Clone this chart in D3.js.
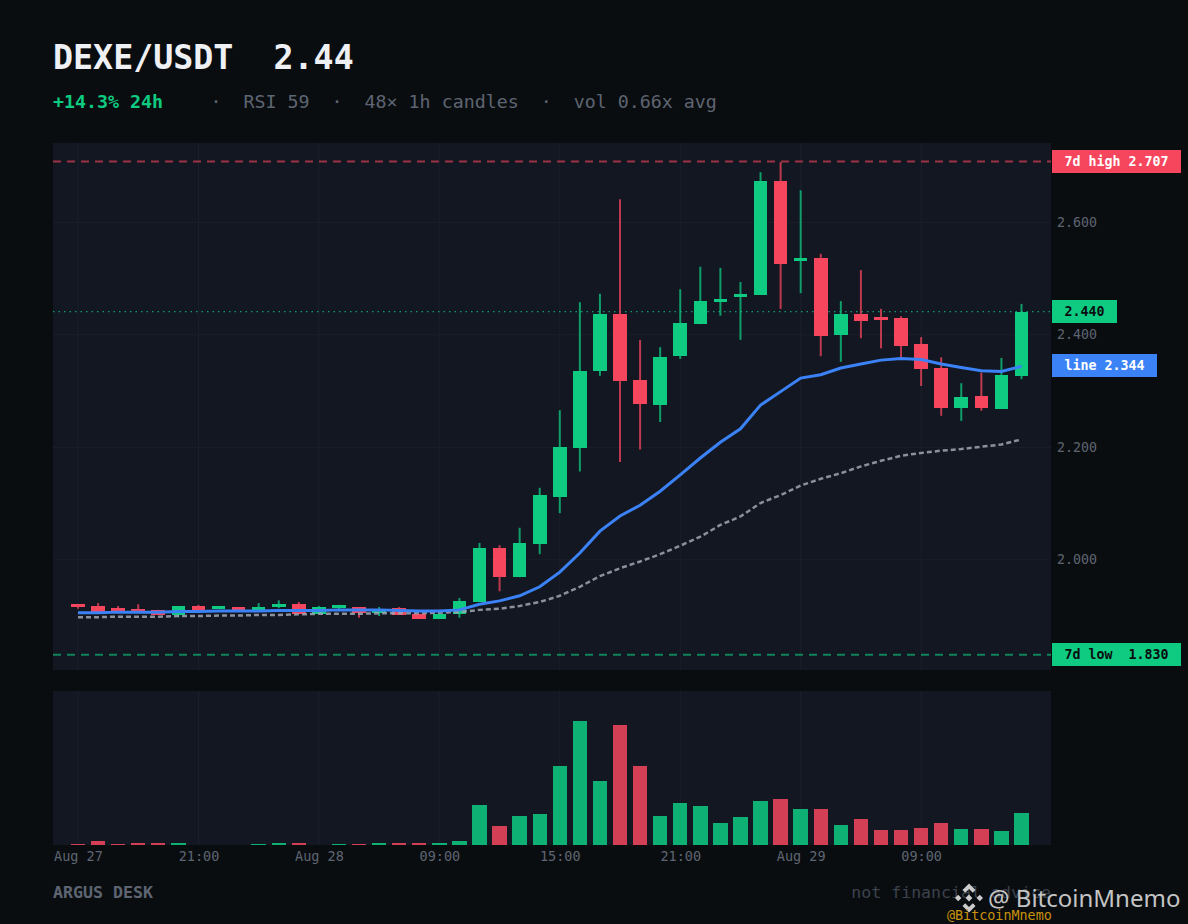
<!DOCTYPE html>
<html>
<head>
<meta charset="utf-8">
<script src="https://cdn.jsdelivr.net/npm/d3@7/dist/d3.min.js"></script>
<style>
  html, body { margin: 0; padding: 0; background: #0a0d10; }
  svg { display: block; }
  text { font-family: "DejaVu Sans Mono", monospace; white-space: pre; }
</style>
</head>
<body>
<div id="chart"></div>
<script>
const opens = [1.921,1.918,1.914,1.913,1.911,1.902,1.918,1.914,1.916,1.909,1.916,1.921,1.904,1.914,1.916,1.905,1.914,1.904,1.895,1.904,
  1.925,2.021,1.969,2.028,2.112,2.199,2.336,2.437,2.320,2.276,2.363,2.420,2.458,2.467,2.471,2.673,2.531,2.537,2.400,2.437,
  2.432,2.430,2.384,2.341,2.270,2.291,2.268,2.327];
const highs = [1.921,1.923,1.918,1.921,1.911,1.918,1.920,1.918,1.916,1.923,1.928,1.925,1.918,1.920,1.916,1.916,1.916,1.904,1.904,1.932,
  2.030,2.026,2.057,2.128,2.266,2.458,2.473,2.641,2.391,2.378,2.481,2.521,2.519,2.494,2.689,2.707,2.657,2.544,2.460,2.515,
  2.446,2.433,2.396,2.360,2.314,2.333,2.359,2.455];
const lows = [1.913,1.907,1.907,1.907,1.902,1.898,1.909,1.913,1.909,1.909,1.914,1.904,1.904,1.912,1.897,1.900,1.902,1.895,1.895,1.897,
  1.925,1.944,1.969,2.010,2.083,2.157,2.327,2.174,2.196,2.245,2.357,2.419,2.434,2.391,2.471,2.446,2.474,2.362,2.352,2.394,
  2.376,2.359,2.309,2.256,2.247,2.265,2.268,2.321];
const closes = [1.916,1.907,1.907,1.907,1.902,1.918,1.909,1.918,1.909,1.916,1.921,1.904,1.916,1.920,1.905,1.912,1.902,1.895,1.904,1.927,
  2.021,1.969,2.030,2.115,2.200,2.336,2.437,2.318,2.277,2.360,2.421,2.460,2.464,2.473,2.673,2.526,2.537,2.398,2.437,2.424,
  2.426,2.380,2.339,2.270,2.289,2.270,2.329,2.440];
const lineValues = [1.906,1.906,1.907,1.907,1.907,1.908,1.908,1.909,1.909,1.909,1.910,1.910,1.910,1.911,1.911,1.911,1.910,1.909,1.909,1.911,
  1.921,1.927,1.936,1.952,1.978,2.012,2.051,2.078,2.097,2.122,2.151,2.181,2.209,2.233,2.275,2.299,2.323,2.329,2.341,2.348,
  2.355,2.358,2.356,2.348,2.342,2.336,2.335,2.344];
const slowValues = [1.898,1.898,1.899,1.899,1.899,1.900,1.900,1.901,1.901,1.902,1.902,1.903,1.904,1.904,1.904,1.905,1.905,1.905,1.906,1.907,
  1.911,1.913,1.918,1.925,1.936,1.952,1.971,1.985,1.997,2.010,2.025,2.041,2.062,2.077,2.101,2.115,2.132,2.144,2.154,2.166,
  2.176,2.185,2.190,2.194,2.197,2.201,2.205,2.214];
const volumes = [1,4,1,2,2,2,0,0,0,1,2,2,0,1,1,2,2,2,2,4,
  40,19,29,31,79,124,64,120,79,29,42,39,22,28,44,46,36,36,20,26,
  15,15,17,22,16,16,14,32];
const priceTicks = [2.0, 2.2, 2.4, 2.6];
const timeTickIdx = [0, 6, 12, 18, 24, 30, 36, 42];
const timeTickLabels = ['Aug 27', '21:00', 'Aug 28', '09:00', '15:00', '21:00', 'Aug 29', '09:00'];
const weekHigh = 2.707;
const weekLow = 1.83;
const lastPrice = 2.44;
const lineLast = 2.344;

const W = 1188, H = 924;
const GREEN = '#0ecb81', RED = '#f6465d', BLUE = '#3b82f6';
const GRID = '#1b1f2a', PANEL = '#131722', MUTED = '#5e6572';
const main = { l: 53, r: 1051, t: 143, b: 670 };
const vol = { t: 691, b: 845 };

const svg = d3.select('#chart').append('svg').attr('width', W).attr('height', H);

const idx = d3.range(closes.length);
const x = d3.scalePoint().domain(idx).range([78, 1021.5]);
const y = d3.scaleLinear().domain([1.805, 2.741]).range([669.5, 143]);
const yVol = d3.scaleLinear().domain([0, 154]).range([vol.b, vol.t]);
const isUp = (i) => closes[i] >= opens[i];

// panels
svg.append('rect').attr('x', main.l).attr('y', main.t).attr('width', main.r - main.l).attr('height', main.b - main.t).attr('fill', PANEL);
svg.append('rect').attr('x', main.l).attr('y', vol.t).attr('width', main.r - main.l).attr('height', vol.b - vol.t).attr('fill', PANEL);

// grid
svg.append('g').selectAll('line').data(priceTicks).join('line')
  .attr('x1', main.l).attr('x2', main.r)
  .attr('y1', (d) => y(d)).attr('y2', (d) => y(d))
  .attr('stroke', GRID).attr('stroke-width', 1);
svg.append('g').selectAll('line').data(timeTickIdx).join('line')
  .attr('x1', (d) => x(d)).attr('x2', (d) => x(d))
  .attr('y1', main.t).attr('y2', main.b)
  .attr('stroke', GRID).attr('stroke-width', 1);
svg.append('g').selectAll('line').data(timeTickIdx).join('line')
  .attr('x1', (d) => x(d)).attr('x2', (d) => x(d))
  .attr('y1', vol.t).attr('y2', vol.b)
  .attr('stroke', GRID).attr('stroke-width', 1);

// reference lines, sit a touch above the candle scale
const refs = svg.append('g').attr('transform', 'translate(0,-0.6)');
function refLine(value, color, dash, width, opacity) {
  refs.append('line')
    .attr('x1', main.l).attr('x2', main.r)
    .attr('y1', y(value)).attr('y2', y(value))
    .attr('stroke', color).attr('stroke-width', width)
    .attr('stroke-dasharray', dash).attr('opacity', opacity);
}
refLine(weekHigh, RED, '8,6', 2, 0.6);
refLine(weekLow, GREEN, '8,6', 2, 0.6);
refLine(lastPrice, GREEN, '1.5,4', 1.2, 0.75);

// candles
const candles = svg.append('g');
candles.selectAll('line').data(idx).join('line')
  .attr('x1', (i) => x(i)).attr('x2', (i) => x(i))
  .attr('y1', (i) => y(highs[i])).attr('y2', (i) => y(lows[i]))
  .attr('stroke', (i) => (isUp(i) ? GREEN : RED))
  .attr('stroke-width', 2).attr('opacity', 0.75);
candles.selectAll('rect').data(idx).join('rect')
  .attr('x', (i) => x(i) - 6.8)
  .attr('width', 13.6)
  .attr('y', (i) => y(Math.max(opens[i], closes[i])))
  .attr('height', (i) => Math.max(3, Math.abs(y(opens[i]) - y(closes[i]))))
  .attr('fill', (i) => (isUp(i) ? GREEN : RED))
  .attr('shape-rendering', 'crispEdges');

// moving lines
const lineGen = (vals) => d3.line().x((i) => x(i)).y((i) => y(vals[i]))(idx);
svg.append('path').attr('d', lineGen(slowValues)).attr('fill', 'none')
  .attr('stroke', '#a0a6b4').attr('stroke-width', 2.5).attr('stroke-dasharray', '5,3').attr('opacity', 0.85);
svg.append('path').attr('d', lineGen(lineValues)).attr('fill', 'none')
  .attr('stroke', BLUE).attr('stroke-width', 3);

// volume
svg.append('g').selectAll('rect').data(idx.filter((i) => volumes[i] > 0)).join('rect')
  .attr('x', (i) => x(i) - 7.2)
  .attr('width', 14.4)
  .attr('y', (i) => yVol(volumes[i]))
  .attr('height', (i) => vol.b - yVol(volumes[i]))
  .attr('fill', (i) => (isUp(i) ? GREEN : RED))
  .attr('opacity', 0.85)
  .attr('shape-rendering', 'crispEdges');

// axes
const yAxis = svg.append('g')
  .attr('transform', `translate(1057,-0.5)`)
  .call(d3.axisRight(y).tickValues(priceTicks).tickSize(0).tickPadding(0).tickFormat(d3.format('.3f')));
yAxis.select('.domain').remove();
yAxis.selectAll('text').attr('fill', MUTED).attr('font-size', 13.3).attr('font-family', '"DejaVu Sans Mono", monospace');

const xAxis = svg.append('g')
  .attr('transform', `translate(0,${vol.b})`)
  .call(d3.axisBottom(x).tickValues(timeTickIdx).tickSize(0).tickPadding(6).tickFormat((d) => timeTickLabels[timeTickIdx.indexOf(d)]));
xAxis.select('.domain').remove();
xAxis.selectAll('text').attr('fill', MUTED).attr('font-size', 13.5).attr('font-family', '"DejaVu Sans Mono", monospace');

// price tags
function tag(value, label, bg, fg, w) {
  const cy = y(value) - 0.5;
  svg.append('rect').attr('x', 1052).attr('y', cy - 11.5).attr('width', w).attr('height', 23).attr('fill', bg)
    .attr('shape-rendering', 'crispEdges');
  svg.append('text').attr('x', 1064.5).attr('y', cy + 4.5).attr('fill', fg)
    .attr('font-size', 13.3).attr('font-weight', 'bold').text(label);
}
tag(weekHigh, '7d high 2.707', RED, '#ffffff', 129);
tag(lastPrice, '2.440', GREEN, '#0a0d10', 65);
tag(lineLast, 'line 2.344', BLUE, '#ffffff', 105);
tag(weekLow, '7d low  1.830', GREEN, '#0a0d10', 129);

// header
svg.append('text').attr('x', 53).attr('y', 69).attr('fill', '#eef0f4')
  .attr('font-size', 33.3).attr('font-weight', 'bold').text('DEXE/USDT  2.44');
svg.append('text').attr('x', 53).attr('y', 108).attr('fill', GREEN)
  .attr('font-size', 18.3).attr('font-weight', 'bold').text('+14.3% 24h');
svg.append('text').attr('x', 210.5).attr('y', 108).attr('fill', MUTED)
  .attr('font-size', 18.3).text('·  RSI 59  ·  48× 1h candles  ·  vol 0.66x avg');

// footer
svg.append('text').attr('x', 53).attr('y', 898).attr('fill', MUTED)
  .attr('font-size', 16.6).attr('font-weight', 'bold').text('ARGUS DESK');
svg.append('text').attr('x', 1051).attr('y', 898).attr('text-anchor', 'end').attr('fill', '#3c424d')
  .attr('font-size', 16.6).text('not financial advice');

// watermark
const mark = svg.append('g').attr('transform', 'translate(969,898)').attr('fill', '#dcdcdc').attr('opacity', 0.92);
mark.append('path').attr('d', 'M0,-14.5L6.5,-8L3.8,-5.3L0,-9L-3.8,-5.3L-6.5,-8Z');
mark.append('path').attr('d', 'M0,14.5L6.5,8L3.8,5.3L0,9L-3.8,5.3L-6.5,8Z');
mark.append('path').attr('d', 'M-14,0L-10.8,-3.2L-7.6,0L-10.8,3.2Z');
mark.append('path').attr('d', 'M14,0L10.8,-3.2L7.6,0L10.8,3.2Z');
mark.append('path').attr('d', 'M0,-3.4L3.4,0L0,3.4L-3.4,0Z');
svg.append('text').attr('x', 988).attr('y', 907).attr('fill', '#d8d8d8').attr('opacity', 0.9)
  .style('font-family', '"Noto Sans", sans-serif').attr('font-size', 24).text('@ BitcoinMnemo');
svg.append('text').attr('x', 947).attr('y', 920).attr('fill', '#c8920c')
  .attr('font-size', 13.4).text('@BitcoinMnemo');
</script>
</body>
</html>
